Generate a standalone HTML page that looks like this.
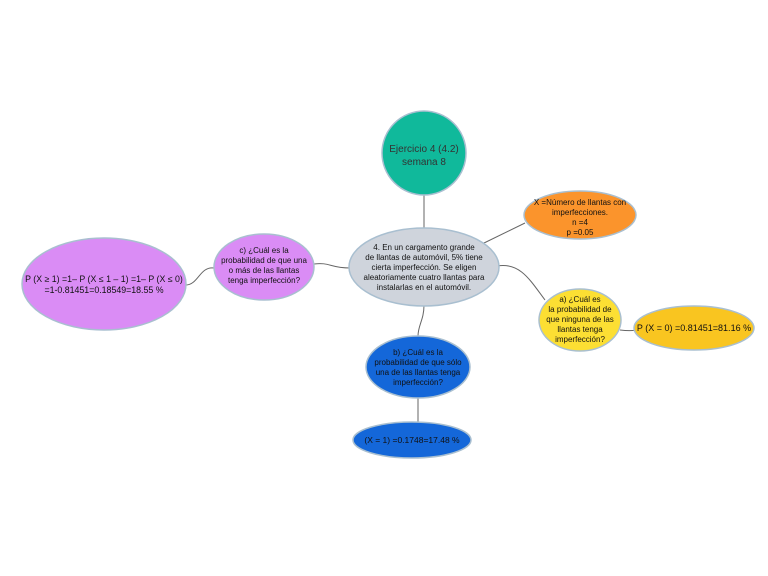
<!DOCTYPE html>
<html><head><meta charset="utf-8"><style>
html,body{margin:0;padding:0;background:#fff;}
svg{display:block;font-family:"Liberation Sans",sans-serif;}
text{text-anchor:middle;}
</style></head><body>
<svg width="768" height="576" viewBox="0 0 768 576">
<g fill="none" stroke="#666" stroke-width="1">
<line x1="424" y1="195" x2="424" y2="229"/>
<line x1="482" y1="244" x2="525" y2="223"/>
<path d="M497 266 C520 262,530 280,545 300"/>
<path d="M620 330 C628 331,632 331,636 330"/>
<path d="M424 305 C424 320,418 325,418 336"/>
<line x1="418" y1="398" x2="418" y2="422"/>
<path d="M350 268 C330 268,330 262,314 264"/>
<path d="M214 268 C200 266,198 285,186 285"/>
</g>
<g stroke="#a9bfd0" stroke-width="1.5">
<circle cx="424" cy="153" r="42" fill="#10b99b"/>
<ellipse cx="424" cy="267" rx="75" ry="39" fill="#cfd4dc"/>
<ellipse cx="580" cy="215" rx="56" ry="24" fill="#fb942c"/>
<ellipse cx="580" cy="320" rx="41" ry="31" fill="#fcdf33"/>
<ellipse cx="694" cy="328" rx="60" ry="22" fill="#f9c520"/>
<ellipse cx="418" cy="367" rx="52" ry="31" fill="#1467d9"/>
<ellipse cx="412" cy="440" rx="59" ry="18" fill="#1467d9"/>
<ellipse cx="264" cy="267" rx="50" ry="33" fill="#da8cf5"/>
<ellipse cx="104" cy="284" rx="82" ry="46" fill="#da8cf5"/>
</g>
<g fill="#333" font-size="10">
<text x="424" y="152">Ejercicio 4 (4.2)</text>
<text x="424" y="165">semana 8</text>
</g>
<g fill="#111" font-size="8">
<text x="424" y="250">4. En un cargamento grande</text>
<text x="424" y="260">de llantas de automóvil, 5% tiene</text>
<text x="424" y="270">cierta imperfección. Se eligen</text>
<text x="424" y="280">aleatoriamente cuatro llantas para</text>
<text x="424" y="290">instalarlas en el automóvil.</text>
<text x="580" y="205">X =Número de llantas con</text>
<text x="580" y="215">imperfecciones.</text>
<text x="580" y="225">n =4</text>
<text x="580" y="235">p =0.05</text>
<text x="580" y="302">a) ¿Cuál es</text>
<text x="580" y="312">la probabilidad de</text>
<text x="580" y="322">que ninguna de las</text>
<text x="580" y="332">llantas tenga</text>
<text x="580" y="342">imperfección?</text>
<text x="694" y="331" font-size="9">P (X = 0) =0.81451=81.16 %</text>
<text x="418" y="355">b) ¿Cuál es la</text>
<text x="418" y="365">probabilidad de que sólo</text>
<text x="418" y="375">una de las llantas tenga</text>
<text x="418" y="385">imperfección?</text>
<text x="412" y="443" font-size="8.5">(X = 1) =0.1748=17.48 %</text>
<text x="264" y="253">c) ¿Cuál es la</text>
<text x="264" y="263">probabilidad de que una</text>
<text x="264" y="273">o más de las llantas</text>
<text x="264" y="283">tenga imperfección?</text>
<text x="104" y="282" font-size="8.8">P (X ≥ 1) =1– P (X ≤ 1 – 1) =1– P (X ≤ 0)</text>
<text x="104" y="293" font-size="8.8">=1-0.81451=0.18549=18.55 %</text>
</g>
</svg>
</body></html>
